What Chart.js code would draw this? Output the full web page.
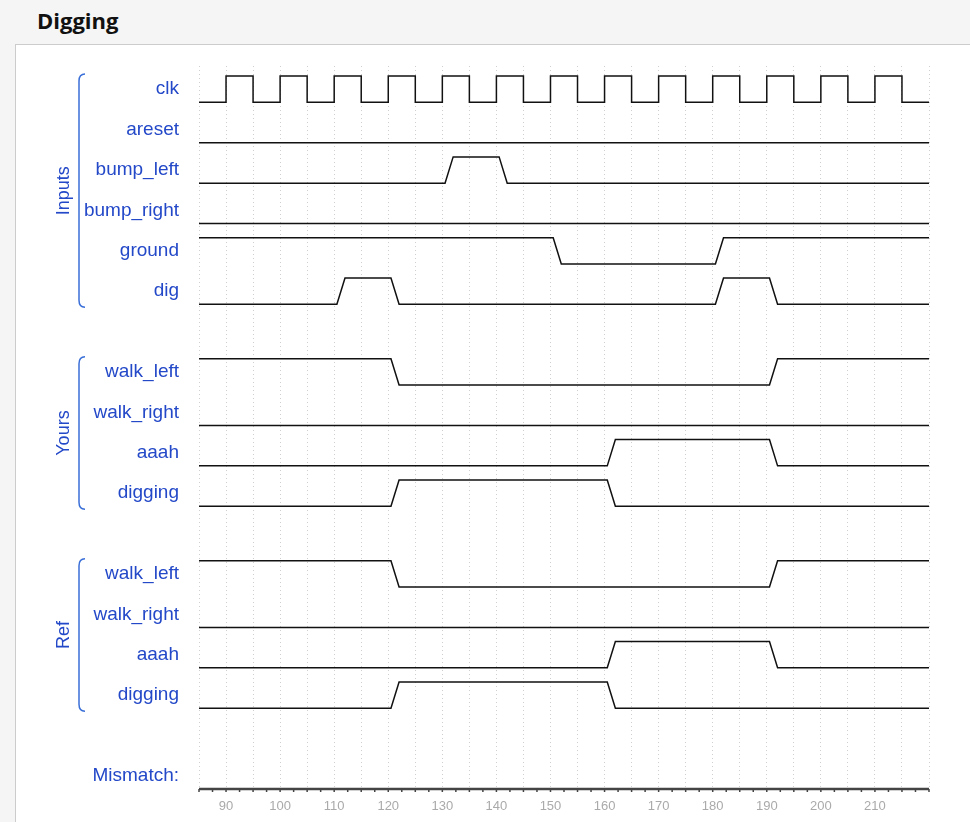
<!DOCTYPE html>
<html><head><meta charset="utf-8">
<script src="https://cdn.jsdelivr.net/npm/chart.js@4"></script>
<style>
body{margin:0;background:#f5f5f5;width:970px;height:822px;overflow:hidden;position:relative;font-family:"Open Sans",sans-serif}
#title{position:absolute;left:37px;top:5px;font-weight:bold;font-size:22px;color:#111}
#card{position:absolute;left:15px;top:44px;width:960px;height:800px;background:#fff;border:1px solid #ccc}
#wrap{position:absolute;left:0;top:0;width:970px;height:822px}
</style></head><body>
<div id="title">Digging</div>
<div id="card"></div>
<div id="wrap"><canvas id="c"></canvas></div>
<script>
// signal names and row positions
const signalNames = ["clk","areset","bump_left","bump_right","ground","dig","walk_left","walk_right","aaah","digging","walk_left","walk_right","aaah","digging","Mismatch:"];
const signalRows  = [0,1,2,3,4,5,7,8,9,10,12,13,14,15,17];
// initial values and transition times
const clkStart = 85, clkEnd = 220, clkHalfPeriod = 5, clkFirstRise = 90;
const initialValues = [0,0,0,0,1,0,1,0,0,0,1,0,0,0,0];
const transitions = [
  null, [], [130,140], [], [150,180], [110,120,180,190],
  [120,190], [], [160,190], [120,160],
  [120,190], [], [160,190], [120,160],
  []
];
const groups = [{name:"Inputs",from:0,to:5},{name:"Yours",from:7,to:10},{name:"Ref",from:12,to:15}];
const xMin = 85, xMax = 220, HIGH = 0.65;

function clkWave(row){
  const pts=[]; let v=0; pts.push({x:clkStart,y:-row});
  for(let t=clkFirstRise;t<clkEnd;t+=clkHalfPeriod){
    pts.push({x:t,y:-row+v*HIGH}); v=1-v; pts.push({x:t,y:-row+v*HIGH});
  }
  pts.push({x:clkEnd,y:-row+v*HIGH}); return pts;
}
function wave(row,init,edges){
  const pts=[]; let v=init; pts.push({x:xMin,y:-row+v*HIGH});
  for(const t of edges){ pts.push({x:t+0.5,y:-row+v*HIGH}); v=1-v; pts.push({x:t+2,y:-row+v*HIGH}); }
  pts.push({x:clkEnd,y:-row+v*HIGH}); return pts;
}
const datasets = signalNames.map((n,i)=>({
  label:n,
  data: i===0 ? clkWave(signalRows[i]) : wave(signalRows[i],initialValues[i],transitions[i]),
  borderColor:'#111',borderWidth:1.5,pointRadius:0,showLine:true,tension:0,fill:false,clip:false
}));
const BLUE='#2348c8';
const bracketPlugin={id:'br',afterDraw(ch){
  const c=ch.ctx, y=ch.scales.y, x=ch.scales.x;
  c.save(); c.strokeStyle='#3a6fd8'; c.lineWidth=1.5;
  for(const g of groups){
    const top=y.getPixelForValue(-g.from+HIGH)-2, bot=y.getPixelForValue(-g.to)+3, bx=79;
    c.beginPath(); c.moveTo(bx+6,top); c.quadraticCurveTo(bx,top,bx,top+7);
    c.lineTo(bx,bot-7); c.quadraticCurveTo(bx,bot,bx+6,bot); c.stroke();
    c.save(); c.translate(64,(top+bot)/2); c.rotate(-Math.PI/2);
    c.fillStyle=BLUE; c.font='18px "Liberation Sans"'; c.textAlign='center'; c.textBaseline='middle';
    c.fillText(g.name,0,0); c.restore();
  }
  // solid bottom axis with minor ticks
  const by=y.getPixelForValue(-17);
  c.strokeStyle='#444'; c.lineWidth=2.5; c.beginPath(); c.moveTo(x.left,by); c.lineTo(x.right,by); c.stroke();
  c.lineWidth=1.5;
  for(let v=85;v<=220;v+=2.5){const px=x.getPixelForValue(v); c.beginPath(); c.moveTo(px,by); c.lineTo(px,by+3); c.stroke();}
  c.restore();
}};
new Chart(document.getElementById('c'),{
  type:'scatter',
  data:{datasets},
  options:{
    responsive:true,maintainAspectRatio:false,animation:false,
    layout:{padding:{top:66,right:41,left:0,bottom:0}},
    plugins:{legend:{display:false},tooltip:{enabled:false}},
    scales:{
      x:{type:'linear',min:xMin,max:xMax,
        afterBuildTicks(s){const t=[];for(let v=85;v<=220;v+=5)t.push({value:v});s.ticks=t;},
        afterFit(s){s.height=33;},
        ticks:{color:'#aaa',font:{family:'"Liberation Sans Narrow","Liberation Sans"',size:13},maxRotation:0,autoSkip:false,padding:10,
          callback:v=>(v%10===0&&v<220)?String(v):''},
        grid:{color:'#cfcfcf',drawTicks:false,lineWidth:1},
        border:{display:false,dash:[1,3]}
      },
      y:{type:'linear',min:-17,max:0.9,
        afterBuildTicks(s){s.ticks=signalRows.map(r=>({value:-r+HIGH/2}));},
        afterFit(s){s.width=199;},
        ticks:{color:BLUE,font:{family:'"Liberation Sans"',size:19},padding:12,autoSkip:false,
          callback:(v,i)=>signalNames[i]},
        grid:{display:false},border:{display:false}
      }
    }
  },
  plugins:[bracketPlugin]
});
</script></body></html>
